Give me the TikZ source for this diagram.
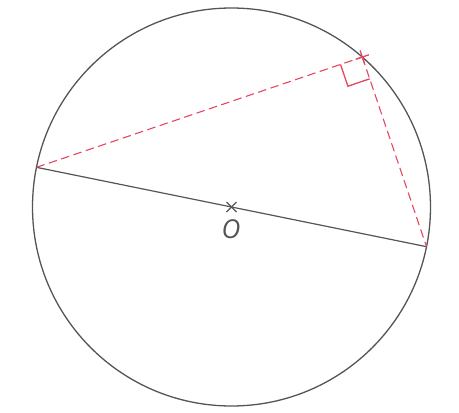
\documentclass[tikz,border=0pt]{standalone}
\usepackage{fontspec}
\setsansfont{Open Sans}
\usetikzlibrary{calc}
\definecolor{pengray}{RGB}{85,85,85}
\definecolor{penred}{RGB}{230,70,95}
\begin{document}
\begin{tikzpicture}[x=1pt,y=1pt,
    circle line/.style={draw=pengray,line width=1.3pt},
    chord line/.style={draw=penred,line width=1.1pt,dash pattern=on 8.5pt off 4.5pt},
    mark line/.style={draw=penred,line width=1.3pt},
    label text/.style={text=pengray,font=\sffamily\itshape\fontsize{26}{26}\selectfont}]
  \useasboundingbox (0,0) rectangle (459,-413);
  \coordinate (O) at (231.5,-207);
  \draw[circle line] (O) circle (199);

  % diameter and point on the circle
  \coordinate (A) at ($(O)+(168.5:199)$);
  \coordinate (B) at ($(O)+(-11.5:199)$);
  \coordinate (P) at ($(O)+(48.9:199)$);
  \draw[draw=pengray,line width=1.2pt] (A) -- (B);

  % centre cross and label
  \draw[draw=pengray,line width=1.4pt] ($(O)+(-5,-5)$) -- ($(O)+(5,5)$)
    ($(O)+(-5,5)$) -- ($(O)+(5,-5)$);
  \node[label text] (lblO) at (231,-229) {O};

  % chords to P
  \draw[chord line] (A) -- (P);
  \draw[chord line] (P) -- (B);

  % right angle at P
  \coordinate (Pa) at ($(P)!23pt!(A)$);
  \coordinate (Pb) at ($(P)!23pt!(B)$);
  \draw[mark line] (Pa) -- ($(Pa)+(Pb)-(P)$) -- (Pb);
  \draw[mark line] ($(P)!-7pt!(A)$) -- ($(P)!7pt!(A)$)
    ($(P)!-7pt!(B)$) -- ($(P)!7pt!(B)$);
\end{tikzpicture}
\end{document}
